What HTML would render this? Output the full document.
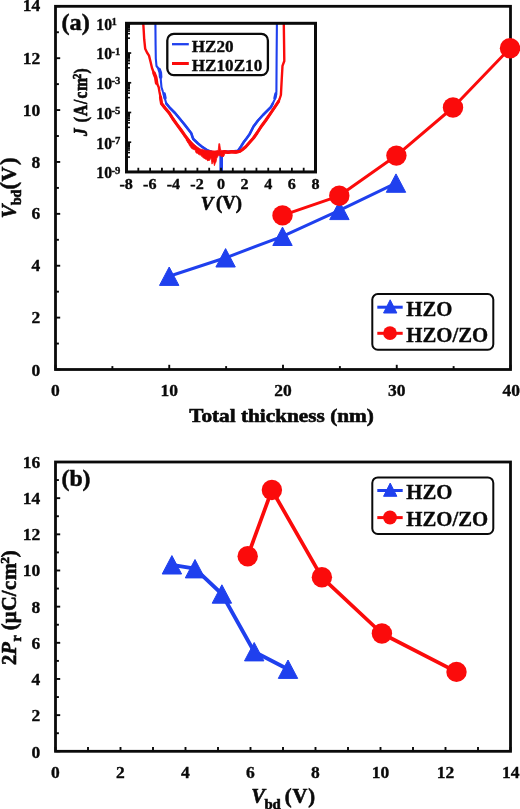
<!DOCTYPE html>
<html lang="en">
<head>
<meta charset="utf-8">
<title>Vbd and 2Pr figure</title>
<style>
html,body{margin:0;padding:0;background:#fff;}
body{width:520px;height:809px;overflow:hidden;}
text{stroke:#0a0a0a;stroke-width:.35px;}
.t{stroke-width:.6px;}
svg{display:block;filter:blur(.3px);font-family:"Liberation Serif","DejaVu Serif",serif;font-weight:bold;fill:#0a0a0a;}
</style>
</head>
<body>
<svg width="520" height="809" viewBox="0 0 520 809">
<rect x="0" y="0" width="520" height="809" fill="#fff"/>
<rect x="55.5" y="6.3" width="455.0" height="363.2" fill="none" stroke="#0a0a0a" stroke-width="2.8"/>
<line x1="55.5" y1="369.5" x2="60.2" y2="369.5" stroke="#0a0a0a" stroke-width="1.9" stroke-linecap="butt"/>
<line x1="55.5" y1="343.56" x2="58.9" y2="343.56" stroke="#0a0a0a" stroke-width="1.9" stroke-linecap="butt"/>
<line x1="55.5" y1="317.61" x2="60.2" y2="317.61" stroke="#0a0a0a" stroke-width="1.9" stroke-linecap="butt"/>
<line x1="55.5" y1="291.67" x2="58.9" y2="291.67" stroke="#0a0a0a" stroke-width="1.9" stroke-linecap="butt"/>
<line x1="55.5" y1="265.73" x2="60.2" y2="265.73" stroke="#0a0a0a" stroke-width="1.9" stroke-linecap="butt"/>
<line x1="55.5" y1="239.79" x2="58.9" y2="239.79" stroke="#0a0a0a" stroke-width="1.9" stroke-linecap="butt"/>
<line x1="55.5" y1="213.84" x2="60.2" y2="213.84" stroke="#0a0a0a" stroke-width="1.9" stroke-linecap="butt"/>
<line x1="55.5" y1="187.9" x2="58.9" y2="187.9" stroke="#0a0a0a" stroke-width="1.9" stroke-linecap="butt"/>
<line x1="55.5" y1="161.96" x2="60.2" y2="161.96" stroke="#0a0a0a" stroke-width="1.9" stroke-linecap="butt"/>
<line x1="55.5" y1="136.01" x2="58.9" y2="136.01" stroke="#0a0a0a" stroke-width="1.9" stroke-linecap="butt"/>
<line x1="55.5" y1="110.07" x2="60.2" y2="110.07" stroke="#0a0a0a" stroke-width="1.9" stroke-linecap="butt"/>
<line x1="55.5" y1="84.13" x2="58.9" y2="84.13" stroke="#0a0a0a" stroke-width="1.9" stroke-linecap="butt"/>
<line x1="55.5" y1="58.19" x2="60.2" y2="58.19" stroke="#0a0a0a" stroke-width="1.9" stroke-linecap="butt"/>
<line x1="55.5" y1="32.24" x2="58.9" y2="32.24" stroke="#0a0a0a" stroke-width="1.9" stroke-linecap="butt"/>
<line x1="55.5" y1="6.3" x2="60.2" y2="6.3" stroke="#0a0a0a" stroke-width="1.9" stroke-linecap="butt"/>
<line x1="55.5" y1="369.5" x2="55.5" y2="364.8" stroke="#0a0a0a" stroke-width="1.9" stroke-linecap="butt"/>
<line x1="112.38" y1="369.5" x2="112.38" y2="366.1" stroke="#0a0a0a" stroke-width="1.9" stroke-linecap="butt"/>
<line x1="169.25" y1="369.5" x2="169.25" y2="364.8" stroke="#0a0a0a" stroke-width="1.9" stroke-linecap="butt"/>
<line x1="226.12" y1="369.5" x2="226.12" y2="366.1" stroke="#0a0a0a" stroke-width="1.9" stroke-linecap="butt"/>
<line x1="283" y1="369.5" x2="283" y2="364.8" stroke="#0a0a0a" stroke-width="1.9" stroke-linecap="butt"/>
<line x1="339.88" y1="369.5" x2="339.88" y2="366.1" stroke="#0a0a0a" stroke-width="1.9" stroke-linecap="butt"/>
<line x1="396.75" y1="369.5" x2="396.75" y2="364.8" stroke="#0a0a0a" stroke-width="1.9" stroke-linecap="butt"/>
<line x1="453.62" y1="369.5" x2="453.62" y2="366.1" stroke="#0a0a0a" stroke-width="1.9" stroke-linecap="butt"/>
<line x1="510.5" y1="369.5" x2="510.5" y2="364.8" stroke="#0a0a0a" stroke-width="1.9" stroke-linecap="butt"/>
<text transform="translate(40.3,375.5) scale(1.03,1)" font-size="17" text-anchor="end" >0</text>
<text transform="translate(40.3,323.21) scale(1.03,1)" font-size="17" text-anchor="end" >2</text>
<text transform="translate(40.3,271.33) scale(1.03,1)" font-size="17" text-anchor="end" >4</text>
<text transform="translate(40.3,219.44) scale(1.03,1)" font-size="17" text-anchor="end" >6</text>
<text transform="translate(40.3,167.56) scale(1.03,1)" font-size="17" text-anchor="end" >8</text>
<text transform="translate(40.3,115.67) scale(1.03,1)" font-size="17" text-anchor="end" >10</text>
<text transform="translate(40.3,63.79) scale(1.03,1)" font-size="17" text-anchor="end" >12</text>
<text transform="translate(40.3,11.4) scale(1.03,1)" font-size="17" text-anchor="end" >14</text>
<text transform="translate(55.5,396.3) scale(1.03,1)" font-size="17" text-anchor="middle" >0</text>
<text transform="translate(169.25,396.3) scale(1.03,1)" font-size="17" text-anchor="middle" >10</text>
<text transform="translate(283,396.3) scale(1.03,1)" font-size="17" text-anchor="middle" >20</text>
<text transform="translate(396.75,396.3) scale(1.03,1)" font-size="17" text-anchor="middle" >30</text>
<text transform="translate(511.2,396.3) scale(1.03,1)" font-size="17" text-anchor="middle" >40</text>
<text transform="translate(281.5,421.5) scale(1.085,1)" font-size="19.6" text-anchor="middle" class="t">Total thickness (nm)</text>
<text transform="translate(15.9,218.3) scale(1.0,1) rotate(-90)" font-size="20.5" text-anchor="start" class="t"><tspan font-style="italic">V</tspan><tspan font-size="13.8" dy="4.6" dx="-0.5">bd</tspan></text>
<text transform="translate(15.9,189.6) scale(1.0,1) rotate(-90)" font-size="20.5" text-anchor="start" class="t"><tspan font-size="22.5">(</tspan><tspan dx="0.6">V</tspan><tspan font-size="22.5" dx="1.6">)</tspan></text>
<text transform="translate(61.5,30.4) scale(1.04,1)" font-size="23.3" text-anchor="start" style="stroke-width:.5px">(a)</text>
<polyline points="169.2,276.2 225.6,257.8 282.5,236.3 339.4,210.4 396,183.1" fill="none" stroke="#1f40ee" stroke-width="3" stroke-linejoin="round" stroke-linecap="round"/>
<polygon points="169.2,267 159.5,285.4 178.9,285.4" fill="#1f40ee" stroke="#1f40ee" stroke-width="1" stroke-linejoin="round"/>
<polygon points="225.6,248.6 215.9,267 235.3,267" fill="#1f40ee" stroke="#1f40ee" stroke-width="1" stroke-linejoin="round"/>
<polygon points="282.5,227.1 272.8,245.5 292.2,245.5" fill="#1f40ee" stroke="#1f40ee" stroke-width="1" stroke-linejoin="round"/>
<polygon points="339.4,201.2 329.7,219.6 349.1,219.6" fill="#1f40ee" stroke="#1f40ee" stroke-width="1" stroke-linejoin="round"/>
<polygon points="396,173.9 386.3,192.3 405.7,192.3" fill="#1f40ee" stroke="#1f40ee" stroke-width="1" stroke-linejoin="round"/>
<polyline points="282.5,215.4 339.3,195.8 396.4,155.6 453,107.5 510,48.2" fill="none" stroke="#fb0b0b" stroke-width="3" stroke-linejoin="round" stroke-linecap="round"/>
<circle cx="282.5" cy="215.4" r="10.2" fill="#fb0b0b"/>
<circle cx="339.3" cy="195.8" r="10.2" fill="#fb0b0b"/>
<circle cx="396.4" cy="155.6" r="10.2" fill="#fb0b0b"/>
<circle cx="453" cy="107.5" r="10.2" fill="#fb0b0b"/>
<circle cx="510" cy="48.2" r="10.2" fill="#fb0b0b"/>
<rect x="372.3" y="294.1" width="121" height="55.6" rx="5.5" ry="5.5" fill="#fff" stroke="#0a0a0a" stroke-width="2"/>
<line x1="377.3" y1="307.2" x2="402.7" y2="307.2" stroke="#1f40ee" stroke-width="3.0" stroke-linecap="butt"/>
<polygon points="390.2,299.8 383.55,313 396.85,313" fill="#1f40ee" stroke="#1f40ee" stroke-width="1" stroke-linejoin="round"/>
<line x1="377.3" y1="333.3" x2="402.7" y2="333.3" stroke="#fb0b0b" stroke-width="3.0" stroke-linecap="butt"/>
<circle cx="390" cy="333.2" r="6.9" fill="#fb0b0b"/>
<text transform="translate(406.3,315.5) scale(0.99,1)" font-size="21" text-anchor="start" >HZO</text>
<text transform="translate(406.3,341.7) scale(0.99,1)" font-size="21" text-anchor="start" >HZO/ZO</text>
<rect x="126.5" y="23.3" width="189.0" height="148.64999999999998" fill="#fff" stroke="none"/>
<polyline points="155.4,24 155.6,45 155.8,58.5 156.5,66 158.4,68.5 159.6,70.4 160.2,74 160.6,77.7 161.5,87.3 163,92 164.4,95.8 165,99 166.3,103.5 170,108 175,113 180,119 184.6,124.6 188,129 191.3,133.3 192.5,137 193.3,139 198,143.5 202,146.7 207.7,150.6 212,152 215.4,152.5 219,152.3 221.2,152.5 224,151.8 230,151.7 238,150.8 241,146.5 243.8,142 246.5,138.5 249.6,134.2 253.5,126.5 258,120.5 263,115 267,111 270.8,107.3 272.8,103.5 274.6,99.6 275.6,96 276.4,92 276.6,60 276.9,24" fill="none" stroke="#1f40ee" stroke-width="2.1" stroke-linejoin="round" stroke-linecap="round"/>
<polyline points="166.3,103.5 170,108 175,113 180,119 184.6,124.6 188,129 191.3,133.3 192.5,137 193.3,139 198,143.5 202,146.7 207.7,150.6 212,152 215.4,152.5 219,152.3 221.2,152.5 224,151.8 230,151.7 238,150.8 241,146.5 243.8,142 246.5,138.5 249.6,134.2 253.5,126.5 258,120.5 263,115 267,111 270.8,107.3 272.8,103.5" fill="none" stroke="#1f40ee" stroke-width="2.6" stroke-linejoin="round" stroke-linecap="round"/>
<line x1="221.2" y1="153" x2="221.2" y2="171" stroke="#1f40ee" stroke-width="3.6" stroke-linecap="butt"/>
<polyline points="159.2,69.5 160.3,72.5 160.6,77" fill="none" stroke="#1f40ee" stroke-width="3.6" stroke-linejoin="round" stroke-linecap="round"/>
<polyline points="164.2,94 165,98" fill="none" stroke="#1f40ee" stroke-width="3.4" stroke-linejoin="round" stroke-linecap="round"/>
<polyline points="275.8,94 274.9,98" fill="none" stroke="#1f40ee" stroke-width="3.2" stroke-linejoin="round" stroke-linecap="round"/>
<polyline points="143.3,24 143.8,32 144.2,39.2 145.2,48.8 147,52.5 149,55.6 150.6,62 152,68 153.5,72 155.8,77.7 156.4,82 158.7,87.3 159.5,92 160.5,97 161.5,103.5 165,108 169.2,113 173,119 177,124.6 181,130 184.6,135.2 187.5,139 190.4,142.9 193,146 196.2,148.7 199,150.8 202,152.5" fill="none" stroke="#fb0b0b" stroke-width="2.4" stroke-linejoin="round" stroke-linecap="round"/>
<polyline points="154,73 155.8,77.7 156.6,83" fill="none" stroke="#fb0b0b" stroke-width="3.6" stroke-linejoin="round" stroke-linecap="round"/>
<polyline points="160.5,97 161.5,103.5 165,108 169.2,113 173,119 177,124.6 181,130 184.6,135.2 187.5,139 190.4,142.9 193,146 196.2,148.7 199,150.8 202,152.5" fill="none" stroke="#fb0b0b" stroke-width="3.2" stroke-linejoin="round" stroke-linecap="round"/>
<polygon points="186,136.5 188,138.3 193.5,143.8 197,146.8 200.2,148.9 204,150 207,150.4 211,150.8 215,151 218.2,150.4 218.9,143.6 219.7,143.8 220.6,150.2 224.4,150.9 230,150.9 234,150.9 239.2,150.4 239.2,152.6 238.4,152.69 237.6,152.78 236.8,152.88 236,152.97 235.2,153.06 234.4,153.15 233.6,153.2 232.8,153.2 232,153.2 231.2,153.2 230.4,153.2 229.6,153.22 228.8,153.25 228,153.28 227.2,153.31 226.4,153.34 225.6,153.38 224.8,153.78 224,155.87 223.2,157 222.4,155.89 221.6,156.75 220.8,156.27 220,155.12 219.2,155.95 218.4,155.23 217.6,157.03 216.8,158 216,161.97 215.2,163.43 214.4,165.72 213.6,161.66 212.8,162.16 212,164.11 211.2,158.81 210.4,158.61 209.6,160.42 208.8,160.14 208,160.98 207.2,160.48 206.4,158.98 205.6,159.29 204.8,158.71 204,158.18 203.2,157.85 202.4,156.85 201.6,156.44 200.8,154.87 200,155.36 199.2,154.58 198.4,154.36 197.6,153.36 196.8,153.2 196,152.82 195.2,150.31 194.4,149.66 193.6,149.6 192.8,149.08 192,148.84 191.2,147.88 190.4,146.78 189.6,145.86 188.8,143.91 188,143.25 187.2,141.6 186.4,140.84" fill="#fb0b0b" stroke="#fb0b0b" stroke-width="0.8" stroke-linejoin="round"/>
<polyline points="283.8,24 284.1,45 284.3,61 282.5,65.8 281.7,80 280.9,95 279.6,99 278.5,101.5 276.2,105 270.8,113 266,120 261.2,126.5 257,133 253.5,138 249.5,142.5 245.8,146.7 242.5,149.5 240,151.3 236,152.2 232,151.6 228,152.4 224.5,151.5" fill="none" stroke="#fb0b0b" stroke-width="2.4" stroke-linejoin="round" stroke-linecap="round"/>
<polyline points="278.5,101.5 276.2,105 270.8,113 266,120 261.2,126.5 257,133 253.5,138 249.5,142.5 245.8,146.7 242.5,149.5 240,151.3 236,152.2 232,151.6 228,152.4 224.5,151.5" fill="none" stroke="#fb0b0b" stroke-width="3.1" stroke-linejoin="round" stroke-linecap="round"/>
<rect x="126.5" y="23.3" width="189.0" height="148.64999999999998" fill="none" stroke="#0a0a0a" stroke-width="3"/>
<line x1="126.5" y1="23.3" x2="131.2" y2="23.3" stroke="#0a0a0a" stroke-width="1.7" stroke-linecap="butt"/>
<line x1="126.5" y1="38.16" x2="130" y2="38.16" stroke="#0a0a0a" stroke-width="1.6" stroke-linecap="butt"/>
<line x1="126.5" y1="33.69" x2="130" y2="33.69" stroke="#0a0a0a" stroke-width="1.6" stroke-linecap="butt"/>
<line x1="126.5" y1="31.07" x2="130" y2="31.07" stroke="#0a0a0a" stroke-width="1.6" stroke-linecap="butt"/>
<line x1="126.5" y1="29.22" x2="130" y2="29.22" stroke="#0a0a0a" stroke-width="1.6" stroke-linecap="butt"/>
<line x1="126.5" y1="27.77" x2="130" y2="27.77" stroke="#0a0a0a" stroke-width="1.6" stroke-linecap="butt"/>
<line x1="126.5" y1="26.6" x2="130" y2="26.6" stroke="#0a0a0a" stroke-width="1.6" stroke-linecap="butt"/>
<line x1="126.5" y1="25.6" x2="130" y2="25.6" stroke="#0a0a0a" stroke-width="1.6" stroke-linecap="butt"/>
<line x1="126.5" y1="24.74" x2="130" y2="24.74" stroke="#0a0a0a" stroke-width="1.6" stroke-linecap="butt"/>
<line x1="126.5" y1="23.98" x2="130" y2="23.98" stroke="#0a0a0a" stroke-width="1.6" stroke-linecap="butt"/>
<line x1="126.5" y1="53.03" x2="131.2" y2="53.03" stroke="#0a0a0a" stroke-width="1.7" stroke-linecap="butt"/>
<line x1="126.5" y1="67.9" x2="130" y2="67.9" stroke="#0a0a0a" stroke-width="1.6" stroke-linecap="butt"/>
<line x1="126.5" y1="63.42" x2="130" y2="63.42" stroke="#0a0a0a" stroke-width="1.6" stroke-linecap="butt"/>
<line x1="126.5" y1="60.8" x2="130" y2="60.8" stroke="#0a0a0a" stroke-width="1.6" stroke-linecap="butt"/>
<line x1="126.5" y1="58.95" x2="130" y2="58.95" stroke="#0a0a0a" stroke-width="1.6" stroke-linecap="butt"/>
<line x1="126.5" y1="57.5" x2="130" y2="57.5" stroke="#0a0a0a" stroke-width="1.6" stroke-linecap="butt"/>
<line x1="126.5" y1="56.33" x2="130" y2="56.33" stroke="#0a0a0a" stroke-width="1.6" stroke-linecap="butt"/>
<line x1="126.5" y1="55.33" x2="130" y2="55.33" stroke="#0a0a0a" stroke-width="1.6" stroke-linecap="butt"/>
<line x1="126.5" y1="54.47" x2="130" y2="54.47" stroke="#0a0a0a" stroke-width="1.6" stroke-linecap="butt"/>
<line x1="126.5" y1="53.71" x2="130" y2="53.71" stroke="#0a0a0a" stroke-width="1.6" stroke-linecap="butt"/>
<line x1="126.5" y1="82.76" x2="131.2" y2="82.76" stroke="#0a0a0a" stroke-width="1.7" stroke-linecap="butt"/>
<line x1="126.5" y1="97.62" x2="130" y2="97.62" stroke="#0a0a0a" stroke-width="1.6" stroke-linecap="butt"/>
<line x1="126.5" y1="93.15" x2="130" y2="93.15" stroke="#0a0a0a" stroke-width="1.6" stroke-linecap="butt"/>
<line x1="126.5" y1="90.53" x2="130" y2="90.53" stroke="#0a0a0a" stroke-width="1.6" stroke-linecap="butt"/>
<line x1="126.5" y1="88.68" x2="130" y2="88.68" stroke="#0a0a0a" stroke-width="1.6" stroke-linecap="butt"/>
<line x1="126.5" y1="87.23" x2="130" y2="87.23" stroke="#0a0a0a" stroke-width="1.6" stroke-linecap="butt"/>
<line x1="126.5" y1="86.06" x2="130" y2="86.06" stroke="#0a0a0a" stroke-width="1.6" stroke-linecap="butt"/>
<line x1="126.5" y1="85.06" x2="130" y2="85.06" stroke="#0a0a0a" stroke-width="1.6" stroke-linecap="butt"/>
<line x1="126.5" y1="84.2" x2="130" y2="84.2" stroke="#0a0a0a" stroke-width="1.6" stroke-linecap="butt"/>
<line x1="126.5" y1="83.44" x2="130" y2="83.44" stroke="#0a0a0a" stroke-width="1.6" stroke-linecap="butt"/>
<line x1="126.5" y1="112.49" x2="131.2" y2="112.49" stroke="#0a0a0a" stroke-width="1.7" stroke-linecap="butt"/>
<line x1="126.5" y1="127.35" x2="130" y2="127.35" stroke="#0a0a0a" stroke-width="1.6" stroke-linecap="butt"/>
<line x1="126.5" y1="122.88" x2="130" y2="122.88" stroke="#0a0a0a" stroke-width="1.6" stroke-linecap="butt"/>
<line x1="126.5" y1="120.26" x2="130" y2="120.26" stroke="#0a0a0a" stroke-width="1.6" stroke-linecap="butt"/>
<line x1="126.5" y1="118.41" x2="130" y2="118.41" stroke="#0a0a0a" stroke-width="1.6" stroke-linecap="butt"/>
<line x1="126.5" y1="116.96" x2="130" y2="116.96" stroke="#0a0a0a" stroke-width="1.6" stroke-linecap="butt"/>
<line x1="126.5" y1="115.79" x2="130" y2="115.79" stroke="#0a0a0a" stroke-width="1.6" stroke-linecap="butt"/>
<line x1="126.5" y1="114.79" x2="130" y2="114.79" stroke="#0a0a0a" stroke-width="1.6" stroke-linecap="butt"/>
<line x1="126.5" y1="113.93" x2="130" y2="113.93" stroke="#0a0a0a" stroke-width="1.6" stroke-linecap="butt"/>
<line x1="126.5" y1="113.17" x2="130" y2="113.17" stroke="#0a0a0a" stroke-width="1.6" stroke-linecap="butt"/>
<line x1="126.5" y1="142.22" x2="131.2" y2="142.22" stroke="#0a0a0a" stroke-width="1.7" stroke-linecap="butt"/>
<line x1="126.5" y1="157.08" x2="130" y2="157.08" stroke="#0a0a0a" stroke-width="1.6" stroke-linecap="butt"/>
<line x1="126.5" y1="152.61" x2="130" y2="152.61" stroke="#0a0a0a" stroke-width="1.6" stroke-linecap="butt"/>
<line x1="126.5" y1="149.99" x2="130" y2="149.99" stroke="#0a0a0a" stroke-width="1.6" stroke-linecap="butt"/>
<line x1="126.5" y1="148.14" x2="130" y2="148.14" stroke="#0a0a0a" stroke-width="1.6" stroke-linecap="butt"/>
<line x1="126.5" y1="146.69" x2="130" y2="146.69" stroke="#0a0a0a" stroke-width="1.6" stroke-linecap="butt"/>
<line x1="126.5" y1="145.52" x2="130" y2="145.52" stroke="#0a0a0a" stroke-width="1.6" stroke-linecap="butt"/>
<line x1="126.5" y1="144.52" x2="130" y2="144.52" stroke="#0a0a0a" stroke-width="1.6" stroke-linecap="butt"/>
<line x1="126.5" y1="143.66" x2="130" y2="143.66" stroke="#0a0a0a" stroke-width="1.6" stroke-linecap="butt"/>
<line x1="126.5" y1="142.9" x2="130" y2="142.9" stroke="#0a0a0a" stroke-width="1.6" stroke-linecap="butt"/>
<line x1="126.5" y1="171.95" x2="131.2" y2="171.95" stroke="#0a0a0a" stroke-width="1.7" stroke-linecap="butt"/>
<line x1="126.5" y1="171.95" x2="126.5" y2="167.75" stroke="#0a0a0a" stroke-width="1.8" stroke-linecap="butt"/>
<line x1="138.31" y1="171.95" x2="138.31" y2="167.75" stroke="#0a0a0a" stroke-width="1.8" stroke-linecap="butt"/>
<line x1="150.12" y1="171.95" x2="150.12" y2="167.75" stroke="#0a0a0a" stroke-width="1.8" stroke-linecap="butt"/>
<line x1="161.94" y1="171.95" x2="161.94" y2="167.75" stroke="#0a0a0a" stroke-width="1.8" stroke-linecap="butt"/>
<line x1="173.75" y1="171.95" x2="173.75" y2="167.75" stroke="#0a0a0a" stroke-width="1.8" stroke-linecap="butt"/>
<line x1="185.56" y1="171.95" x2="185.56" y2="167.75" stroke="#0a0a0a" stroke-width="1.8" stroke-linecap="butt"/>
<line x1="197.38" y1="171.95" x2="197.38" y2="167.75" stroke="#0a0a0a" stroke-width="1.8" stroke-linecap="butt"/>
<line x1="209.19" y1="171.95" x2="209.19" y2="167.75" stroke="#0a0a0a" stroke-width="1.8" stroke-linecap="butt"/>
<line x1="221" y1="171.95" x2="221" y2="167.75" stroke="#0a0a0a" stroke-width="1.8" stroke-linecap="butt"/>
<line x1="232.81" y1="171.95" x2="232.81" y2="167.75" stroke="#0a0a0a" stroke-width="1.8" stroke-linecap="butt"/>
<line x1="244.62" y1="171.95" x2="244.62" y2="167.75" stroke="#0a0a0a" stroke-width="1.8" stroke-linecap="butt"/>
<line x1="256.44" y1="171.95" x2="256.44" y2="167.75" stroke="#0a0a0a" stroke-width="1.8" stroke-linecap="butt"/>
<line x1="268.25" y1="171.95" x2="268.25" y2="167.75" stroke="#0a0a0a" stroke-width="1.8" stroke-linecap="butt"/>
<line x1="280.06" y1="171.95" x2="280.06" y2="167.75" stroke="#0a0a0a" stroke-width="1.8" stroke-linecap="butt"/>
<line x1="291.88" y1="171.95" x2="291.88" y2="167.75" stroke="#0a0a0a" stroke-width="1.8" stroke-linecap="butt"/>
<line x1="303.69" y1="171.95" x2="303.69" y2="167.75" stroke="#0a0a0a" stroke-width="1.8" stroke-linecap="butt"/>
<line x1="315.5" y1="171.95" x2="315.5" y2="167.75" stroke="#0a0a0a" stroke-width="1.8" stroke-linecap="butt"/>
<text transform="translate(96.3,29.7) scale(0.97,1)" font-size="16.2" text-anchor="start" >10<tspan font-size="11" dy="-4.8" dx="-0.6">1</tspan></text>
<text transform="translate(96.3,59.43) scale(0.97,1)" font-size="16.2" text-anchor="start" >10<tspan font-size="11" dy="-4.8" dx="-0.6">-1</tspan></text>
<text transform="translate(96.3,89.16) scale(0.97,1)" font-size="16.2" text-anchor="start" >10<tspan font-size="11" dy="-4.8" dx="-0.6">-3</tspan></text>
<text transform="translate(96.3,118.89) scale(0.97,1)" font-size="16.2" text-anchor="start" >10<tspan font-size="11" dy="-4.8" dx="-0.6">-5</tspan></text>
<text transform="translate(96.3,148.62) scale(0.97,1)" font-size="16.2" text-anchor="start" >10<tspan font-size="11" dy="-4.8" dx="-0.6">-7</tspan></text>
<text transform="translate(96.3,178.35) scale(0.97,1)" font-size="16.2" text-anchor="start" >10<tspan font-size="11" dy="-4.8" dx="-0.6">-9</tspan></text>
<text transform="translate(126.1,189.2) scale(1.04,1)" font-size="15.5" text-anchor="middle" >-8</text>
<text transform="translate(149.72,189.2) scale(1.04,1)" font-size="15.5" text-anchor="middle" >-6</text>
<text transform="translate(173.35,189.2) scale(1.04,1)" font-size="15.5" text-anchor="middle" >-4</text>
<text transform="translate(196.97,189.2) scale(1.04,1)" font-size="15.5" text-anchor="middle" >-2</text>
<text transform="translate(221,189.2) scale(1.04,1)" font-size="15.5" text-anchor="middle" >0</text>
<text transform="translate(244.62,189.2) scale(1.04,1)" font-size="15.5" text-anchor="middle" >2</text>
<text transform="translate(268.25,189.2) scale(1.04,1)" font-size="15.5" text-anchor="middle" >4</text>
<text transform="translate(291.88,189.2) scale(1.04,1)" font-size="15.5" text-anchor="middle" >6</text>
<text transform="translate(315.5,189.2) scale(1.04,1)" font-size="15.5" text-anchor="middle" >8</text>
<text transform="translate(200.8,209.5) scale(1.0,1)" font-size="19" text-anchor="start" style="stroke-width:.6px"><tspan font-style="italic">V</tspan></text>
<text transform="translate(216,209.3) scale(0.98,1)" font-size="19" text-anchor="start" style="stroke-width:.6px">(V)</text>
<text transform="translate(87.3,135.9) scale(1.16,1) rotate(-90)" font-size="15.4" text-anchor="start" class="t" letter-spacing="1.05"><tspan font-style="italic">J</tspan> (A/cm<tspan font-size="10.5" dy="-5.5" dx="-2.2">2</tspan><tspan dy="5.5" dx="-0.8">)</tspan></text>
<rect x="167.3" y="33.9" width="100.6" height="41.2" rx="6.5" ry="6.5" fill="#fff" stroke="#0a0a0a" stroke-width="2.3"/>
<line x1="172" y1="44.2" x2="188.8" y2="44.2" stroke="#1f40ee" stroke-width="2.3" stroke-linecap="butt"/>
<line x1="172" y1="63.5" x2="188.8" y2="63.5" stroke="#fb0b0b" stroke-width="3.0" stroke-linecap="butt"/>
<text transform="translate(191.8,52) scale(1.02,1)" font-size="16.8" text-anchor="start" >HZ20</text>
<text transform="translate(191.8,70.9) scale(1.02,1)" font-size="16.8" text-anchor="start" >HZ10Z10</text>
<rect x="55.5" y="462.0" width="455.0" height="289.29999999999995" fill="none" stroke="#0a0a0a" stroke-width="2.8"/>
<line x1="55.5" y1="751.3" x2="60.2" y2="751.3" stroke="#0a0a0a" stroke-width="1.9" stroke-linecap="butt"/>
<line x1="55.5" y1="733.22" x2="58.9" y2="733.22" stroke="#0a0a0a" stroke-width="1.9" stroke-linecap="butt"/>
<line x1="55.5" y1="715.14" x2="60.2" y2="715.14" stroke="#0a0a0a" stroke-width="1.9" stroke-linecap="butt"/>
<line x1="55.5" y1="697.06" x2="58.9" y2="697.06" stroke="#0a0a0a" stroke-width="1.9" stroke-linecap="butt"/>
<line x1="55.5" y1="678.97" x2="60.2" y2="678.97" stroke="#0a0a0a" stroke-width="1.9" stroke-linecap="butt"/>
<line x1="55.5" y1="660.89" x2="58.9" y2="660.89" stroke="#0a0a0a" stroke-width="1.9" stroke-linecap="butt"/>
<line x1="55.5" y1="642.81" x2="60.2" y2="642.81" stroke="#0a0a0a" stroke-width="1.9" stroke-linecap="butt"/>
<line x1="55.5" y1="624.73" x2="58.9" y2="624.73" stroke="#0a0a0a" stroke-width="1.9" stroke-linecap="butt"/>
<line x1="55.5" y1="606.65" x2="60.2" y2="606.65" stroke="#0a0a0a" stroke-width="1.9" stroke-linecap="butt"/>
<line x1="55.5" y1="588.57" x2="58.9" y2="588.57" stroke="#0a0a0a" stroke-width="1.9" stroke-linecap="butt"/>
<line x1="55.5" y1="570.49" x2="60.2" y2="570.49" stroke="#0a0a0a" stroke-width="1.9" stroke-linecap="butt"/>
<line x1="55.5" y1="552.41" x2="58.9" y2="552.41" stroke="#0a0a0a" stroke-width="1.9" stroke-linecap="butt"/>
<line x1="55.5" y1="534.33" x2="60.2" y2="534.33" stroke="#0a0a0a" stroke-width="1.9" stroke-linecap="butt"/>
<line x1="55.5" y1="516.24" x2="58.9" y2="516.24" stroke="#0a0a0a" stroke-width="1.9" stroke-linecap="butt"/>
<line x1="55.5" y1="498.16" x2="60.2" y2="498.16" stroke="#0a0a0a" stroke-width="1.9" stroke-linecap="butt"/>
<line x1="55.5" y1="480.08" x2="58.9" y2="480.08" stroke="#0a0a0a" stroke-width="1.9" stroke-linecap="butt"/>
<line x1="55.5" y1="462" x2="60.2" y2="462" stroke="#0a0a0a" stroke-width="1.9" stroke-linecap="butt"/>
<line x1="55.5" y1="751.3" x2="55.5" y2="747" stroke="#0a0a0a" stroke-width="1.9" stroke-linecap="butt"/>
<line x1="88" y1="751.3" x2="88" y2="747" stroke="#0a0a0a" stroke-width="1.9" stroke-linecap="butt"/>
<line x1="120.5" y1="751.3" x2="120.5" y2="747" stroke="#0a0a0a" stroke-width="1.9" stroke-linecap="butt"/>
<line x1="153" y1="751.3" x2="153" y2="747" stroke="#0a0a0a" stroke-width="1.9" stroke-linecap="butt"/>
<line x1="185.5" y1="751.3" x2="185.5" y2="747" stroke="#0a0a0a" stroke-width="1.9" stroke-linecap="butt"/>
<line x1="218" y1="751.3" x2="218" y2="747" stroke="#0a0a0a" stroke-width="1.9" stroke-linecap="butt"/>
<line x1="250.5" y1="751.3" x2="250.5" y2="747" stroke="#0a0a0a" stroke-width="1.9" stroke-linecap="butt"/>
<line x1="283" y1="751.3" x2="283" y2="747" stroke="#0a0a0a" stroke-width="1.9" stroke-linecap="butt"/>
<line x1="315.5" y1="751.3" x2="315.5" y2="747" stroke="#0a0a0a" stroke-width="1.9" stroke-linecap="butt"/>
<line x1="348" y1="751.3" x2="348" y2="747" stroke="#0a0a0a" stroke-width="1.9" stroke-linecap="butt"/>
<line x1="380.5" y1="751.3" x2="380.5" y2="747" stroke="#0a0a0a" stroke-width="1.9" stroke-linecap="butt"/>
<line x1="413" y1="751.3" x2="413" y2="747" stroke="#0a0a0a" stroke-width="1.9" stroke-linecap="butt"/>
<line x1="445.5" y1="751.3" x2="445.5" y2="747" stroke="#0a0a0a" stroke-width="1.9" stroke-linecap="butt"/>
<line x1="478" y1="751.3" x2="478" y2="747" stroke="#0a0a0a" stroke-width="1.9" stroke-linecap="butt"/>
<line x1="510.5" y1="751.3" x2="510.5" y2="747" stroke="#0a0a0a" stroke-width="1.9" stroke-linecap="butt"/>
<text transform="translate(40.3,757.5) scale(1.03,1)" font-size="17" text-anchor="end" >0</text>
<text transform="translate(40.3,721.26) scale(1.03,1)" font-size="17" text-anchor="end" >2</text>
<text transform="translate(40.3,685.02) scale(1.03,1)" font-size="17" text-anchor="end" >4</text>
<text transform="translate(40.3,648.79) scale(1.03,1)" font-size="17" text-anchor="end" >6</text>
<text transform="translate(40.3,612.55) scale(1.03,1)" font-size="17" text-anchor="end" >8</text>
<text transform="translate(40.3,576.31) scale(1.03,1)" font-size="17" text-anchor="end" >10</text>
<text transform="translate(40.3,540.08) scale(1.03,1)" font-size="17" text-anchor="end" >12</text>
<text transform="translate(40.3,503.84) scale(1.03,1)" font-size="17" text-anchor="end" >14</text>
<text transform="translate(40.3,467.6) scale(1.03,1)" font-size="17" text-anchor="end" >16</text>
<text transform="translate(55.5,778.3) scale(1.03,1)" font-size="17" text-anchor="middle" >0</text>
<text transform="translate(120.5,778.3) scale(1.03,1)" font-size="17" text-anchor="middle" >2</text>
<text transform="translate(185.5,778.3) scale(1.03,1)" font-size="17" text-anchor="middle" >4</text>
<text transform="translate(250.5,778.3) scale(1.03,1)" font-size="17" text-anchor="middle" >6</text>
<text transform="translate(315.5,778.3) scale(1.03,1)" font-size="17" text-anchor="middle" >8</text>
<text transform="translate(380.5,778.3) scale(1.03,1)" font-size="17" text-anchor="middle" >10</text>
<text transform="translate(445.5,778.3) scale(1.03,1)" font-size="17" text-anchor="middle" >12</text>
<text transform="translate(510.8,778.3) scale(1.03,1)" font-size="17" text-anchor="middle" >14</text>
<text transform="translate(251.2,803.3) scale(1.0,1)" font-size="20.5" text-anchor="start" class="t"><tspan font-style="italic">V</tspan><tspan font-size="14.8" dy="5.2" dx="-0.5">bd</tspan></text>
<text transform="translate(284.8,803.1) scale(1.0,1)" font-size="20.5" text-anchor="start" class="t" letter-spacing="0.9">(V)</text>
<text transform="translate(16,665) scale(1.0,1) rotate(-90)" font-size="20.5" text-anchor="start" class="t">2<tspan font-style="italic">P</tspan><tspan font-size="13.8" dy="4.6" dx="0.7">r</tspan><tspan dy="-4.6" dx="0"> (</tspan><tspan dx="0.3">μ</tspan><tspan dx="0.6">C</tspan><tspan dx="-0.2">/</tspan><tspan dx="0.6">c</tspan><tspan dx="0.8">m</tspan><tspan font-size="13.5" dy="-7" dx="-0.6">2</tspan><tspan dy="7" dx="-0.4">)</tspan></text>
<text transform="translate(61.5,486) scale(1.02,1)" font-size="23.3" text-anchor="start" style="stroke-width:.5px">(b)</text>
<polyline points="171.9,564.8 195,568.7 221.9,594 254.2,651.7 288,669.2" fill="none" stroke="#1f40ee" stroke-width="3.8" stroke-linejoin="round" stroke-linecap="round"/>
<polygon points="171.9,555.6 162.2,574 181.6,574" fill="#1f40ee" stroke="#1f40ee" stroke-width="1" stroke-linejoin="round"/>
<polygon points="195,559.5 185.3,577.9 204.7,577.9" fill="#1f40ee" stroke="#1f40ee" stroke-width="1" stroke-linejoin="round"/>
<polygon points="221.9,584.8 212.2,603.2 231.6,603.2" fill="#1f40ee" stroke="#1f40ee" stroke-width="1" stroke-linejoin="round"/>
<polygon points="254.2,642.5 244.5,660.9 263.9,660.9" fill="#1f40ee" stroke="#1f40ee" stroke-width="1" stroke-linejoin="round"/>
<polygon points="288,660 278.3,678.4 297.7,678.4" fill="#1f40ee" stroke="#1f40ee" stroke-width="1" stroke-linejoin="round"/>
<polyline points="247.7,556.2 271.9,490 321.9,577.3 381.9,633.5 456.5,671.9" fill="none" stroke="#fb0b0b" stroke-width="3.7" stroke-linejoin="round" stroke-linecap="round"/>
<circle cx="247.7" cy="556.2" r="10.2" fill="#fb0b0b"/>
<circle cx="271.9" cy="490" r="10.2" fill="#fb0b0b"/>
<circle cx="321.9" cy="577.3" r="10.2" fill="#fb0b0b"/>
<circle cx="381.9" cy="633.5" r="10.2" fill="#fb0b0b"/>
<circle cx="456.5" cy="671.9" r="10.2" fill="#fb0b0b"/>
<rect x="372.3" y="477.4" width="121" height="56.6" rx="5.5" ry="5.5" fill="#fff" stroke="#0a0a0a" stroke-width="2"/>
<line x1="377.3" y1="490.5" x2="402.7" y2="490.5" stroke="#1f40ee" stroke-width="3.0" stroke-linecap="butt"/>
<polygon points="390.2,483.1 383.55,496.3 396.85,496.3" fill="#1f40ee" stroke="#1f40ee" stroke-width="1" stroke-linejoin="round"/>
<line x1="377.3" y1="517.6" x2="402.7" y2="517.6" stroke="#fb0b0b" stroke-width="3.0" stroke-linecap="butt"/>
<circle cx="390" cy="517.5" r="6.9" fill="#fb0b0b"/>
<text transform="translate(406.3,498.8) scale(0.99,1)" font-size="21" text-anchor="start" >HZO</text>
<text transform="translate(406.3,526) scale(0.99,1)" font-size="21" text-anchor="start" >HZO/ZO</text>
</svg>
</body>
</html>
